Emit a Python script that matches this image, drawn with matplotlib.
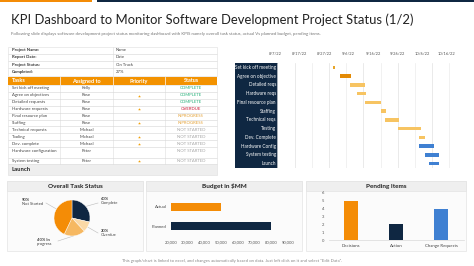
import matplotlib
matplotlib.use("Agg")
import matplotlib.pyplot as plt
from matplotlib.patches import Rectangle
import numpy as np

W, H = 474, 266
plt.rcParams['font.family'] = ['Lato', 'DejaVu Sans']

# ---------------- data ----------------
title = "KPI Dashboard to Monitor Software Development Project Status (1/2)"
subtitle = ("Following slide displays software development project status monitoring dashboard with KPIS "
            "namely overall task status, actual Vs planned budget, pending items.")
info_labels = ["Project Name:", "Report Date:", "Project Status:", "Completed:"]
info_values = ["Name", "Date", "On Track", "27%"]
table_headers = ["Tasks", "Assigned to", "Priority", "Status"]
tasks = ["Set kick off meeting", "Agree on objectives", "Detailed requests", "Hardware requests",
         "Final resource plan", "Staffing", "Technical requests", "Tooling", "Dev. complete",
         "Hardware configuration", "System testing"]
assigned = ["Kelly", "Rose", "Rose", "Rose", "Rose", "Rose", "Michael", "Michael", "Michael",
            "Peter", "Peter"]
priority = [False, True, False, True, False, True, False, True, True, False, True]
status = ["COMPLETE", "COMPLETE", "COMPLETE", "OVERDUE", "INPROGRESS", "INPROGRESS",
          "NOT STARTED", "NOT STARTED", "NOT STARTED", "NOT STARTED", "NOT STARTED"]
milestone = "Launch"

gantt_tasks = ["Set kick off meeting", "Agree on objective", "Detailed reqs", "Hardware reqs",
               "Final resource plan", "Staffing", "Technical reqs", "Testing", "Dev. Complete",
               "Hardware Config", "System testing", "Launch"]
gantt_start = [23.5, 26.5, 30.5, 33.5, 36.6, 43.0, 44.7, 50.0, 58.5, 58.8, 61.0, 62.5]  # days after 8/7/22
gantt_dur = [1.0, 4.5, 6.2, 3.7, 6.4, 2.3, 5.7, 9.6, 2.4, 6.1, 5.8, 4.3]
gantt_group = ["kick", "agree", "plan", "plan", "plan", "plan", "plan", "plan", "plan",
               "late", "late", "late"]
gantt_tick_days = [0, 10, 20, 30, 40, 50, 60, 70]
gantt_tick_labels = ["8/7/22", "8/17/22", "8/27/22", "9/6/22", "9/16/22", "9/26/22",
                     "10/6/22", "10/16/22"]

pie_labels = ["Complete", "Overdue", "In progress", "Not Started"]
pie_values = [60, 20, 40, 90]
pie_texts = ["60%\nComplete", "20%\nOverdue", "40% In\nprogress", "90%\nNot Started"]

budget_cats = ["Planned", "Actual"]
budget_vals = [80000, 50000]
budget_ticks = [20000, 30000, 40000, 50000, 60000, 70000, 80000, 90000]

pending_cats = ["Decisions", "Action", "Change Requests"]
pending_vals = [5, 2, 4]

footer = ('This graph/chart is linked to excel, and changes automatically based on data. '
          'Just left click on it and select "Edit Data".')

# ---------------- colours ----------------
NAVY = "#0F2742"
ORANGE = "#F48C06"
LORANGE = "#F7C462"
BLUE = "#3F80D2"
status_colors = {"COMPLETE": "#27B07A", "OVERDUE": "#C8102E",
                 "INPROGRESS": "#E3A034", "NOT STARTED": "#A6A6A6"}
gantt_colors = {"kick": "#E7A52A", "agree": "#E38A05", "plan": LORANGE, "late": BLUE}
pie_colors = [NAVY, "#FBD9A6", "#F6B861", ORANGE]
pending_colors = [ORANGE, NAVY, BLUE]

fig = plt.figure(figsize=(W / 100, H / 100), dpi=100)
fig.patch.set_facecolor("white")

def add_ax(x0, y0, x1, y1, **kw):
    return fig.add_axes([x0 / W, 1 - y1 / H, (x1 - x0) / W, (y1 - y0) / H], **kw)

# background pixel axes
bg = add_ax(0, 0, W, H)
bg.set_xlim(0, W)
bg.set_ylim(H, 0)
bg.axis("off")

def rect(x0, y0, x1, y1, fc, ec="none", lw=0.5, z=0):
    bg.add_patch(Rectangle((x0, y0), x1 - x0, y1 - y0, facecolor=fc, edgecolor=ec, lw=lw, zorder=z))

# top bars
rect(0, 0, 92, 2.2, ORANGE)
rect(97, 0, W, 2.2, NAVY)

bg.text(11, 19.5, title, fontsize=9.4, color="#222222", va="center", ha="left")
bg.text(11, 34, subtitle, fontsize=3.2, color="#777777", va="center", ha="left")

# ---------------- table ----------------
TL, TR = 8, 217
cols = [8, 60, 113, 165, 217]
line_c = "#DDDDDD"
fs_t = 3.1
# info rows
iy0, ih = 46.5, 7.3
for i, (lab, val) in enumerate(zip(info_labels, info_values)):
    y0 = iy0 + i * ih
    rect(TL, y0, TR, y0 + ih, "white", ec=line_c, lw=0.4)
    bg.plot([113, 113], [y0, y0 + ih], color=line_c, lw=0.4)
    bg.text(12, y0 + ih / 2, lab, fontsize=fs_t, fontweight="bold", color="#333333", va="center")
    bg.text(116, y0 + ih / 2, val, fontsize=fs_t, color="#444444", va="center")
# header
hy0, hy1 = 77, 85
rect(TL, hy0, TR, hy1, "#F39200")
for j, h in enumerate(table_headers):
    if j == 0:
        bg.text(12, (hy0 + hy1) / 2, h, fontsize=4.0, fontweight="bold", color="white", va="center")
    else:
        bg.text((cols[j] + cols[j + 1]) / 2, (hy0 + hy1) / 2, h, fontsize=4.0, fontweight="bold",
                color="white", va="center", ha="center")
for c in cols[1:-1]:
    bg.plot([c, c], [hy0, hy1], color="white", lw=0.5)
# task rows
heights = [6.9] * len(tasks)
heights[9] = 10.4
y = hy1
for i in range(len(tasks)):
    h = heights[i]
    rect(TL, y, TR, y + h, "white", ec=line_c, lw=0.4)
    for c in cols[1:-1]:
        bg.plot([c, c], [y, y + h], color=line_c, lw=0.4)
    yc = y + 3.45
    bg.text(12, yc, tasks[i], fontsize=fs_t, color="#444444", va="center")
    bg.text((cols[1] + cols[2]) / 2, yc, assigned[i], fontsize=fs_t, color="#444444",
            va="center", ha="center")
    if priority[i]:
        bg.plot((cols[2] + cols[3]) / 2, yc + 0.3, marker="*", ms=2.2, color="#F2A007", mec="none")
    bg.text((cols[3] + cols[4]) / 2, yc, status[i], fontsize=fs_t, color=status_colors[status[i]],
            va="center", ha="center")
    y += h
rect(TL, y, TR, y + 11, "#EEEEEE", ec=line_c, lw=0.4)
bg.text(12, y + 5.5, milestone, fontsize=4.3, fontweight="bold", color="#222222", va="center")

# ---------------- gantt ----------------
rect(235, 63, 278, 168, NAVY, z=3)
gx0, gx1, gy0, gy1 = 275, 462, 63, 168
px_per_day = 172 / 70
gax = add_ax(gx0, gy0, gx1, gy1)
gax.set_xlim(0, (gx1 - gx0) / px_per_day)
gax.set_ylim(len(gantt_tasks) - 0.5, -0.5)
ypos = np.arange(len(gantt_tasks))
gax.barh(ypos, gantt_dur, left=gantt_start, height=0.38,
         color=[gantt_colors[g] for g in gantt_group], zorder=3)
for d in np.arange(1, 76, 7):
    major = int(round((d - 1) / 7)) % 2 == 0
    gax.axvline(d, color="#E2E2E2" if not major else "#EBEBEB", lw=0.5, zorder=0)
for s in gax.spines.values():
    s.set_visible(False)
gax.set_yticks([])
gax.xaxis.tick_top()
gax.set_xticks(gantt_tick_days)
gax.set_xticklabels(gantt_tick_labels, fontsize=2.9, color="#555555")
gax.tick_params(axis="x", length=0, pad=5)
gax.patch.set_alpha(0)
for i, t in enumerate(gantt_tasks):
    bg.text(276, gy0 + (i + 0.5) * (gy1 - gy0) / len(gantt_tasks), t, fontsize=3.3,
            color="white", ha="right", va="center", zorder=4)

# ---------------- bottom panels ----------------
panels = [(7, 143, "Overall Task Status"), (146, 302, "Budget in $MM"), (306, 466, "Pending Items")]
py0, py1, ph = 181, 251, 10
for x0, x1, t in panels:
    rect(x0, py0, x1, py1, "#FBFBFB", ec="#E4E4E4", lw=0.5)
    rect(x0, py0, x1, py0 + ph, "#EFEFEF", ec="#E4E4E4", lw=0.5)
    bg.text((x0 + x1) / 2, py0 + ph / 2 + 0.3, t, fontsize=4.6, fontweight="bold",
            color="#222222", ha="center", va="center")

# pie
R = 18.0
cx, cy = 72, 218
pax = add_ax(7, 191, 143, 251)
pax.pie(pie_values, colors=pie_colors, startangle=90, counterclock=False, radius=1,
        wedgeprops=dict(edgecolor="white", linewidth=0.3))
pax.set_aspect("auto")
pax.set_xlim(-(cx - 7) / R, (143 - cx) / R)
pax.set_ylim(-(251 - cy) / R, (cy - 191) / R)
label_pos = [(101, 201), (101, 233), (37, 242), (22, 202)]
line_end = [(98, 203), (98, 233), (58, 241), (46, 203)]
edge_ang = [40, -30, -85, 150]
for txt, (lx, ly), (ex, ey), a in zip(pie_texts, label_pos, line_end, edge_ang):
    px = cx + R * np.cos(np.radians(a))
    py = cy - R * np.sin(np.radians(a))
    bg.plot([px, ex], [py, ey], color="#BBBBBB", lw=0.4, zorder=5)
    first, second = txt.split("\n")
    bg.text(lx, ly - 2.1, first, fontsize=3.0, fontweight="bold", color="#444444", va="center", zorder=5)
    bg.text(lx, ly + 2.1, second, fontsize=3.0, color="#444444", va="center", zorder=5)

# budget
px_per_10k = 16.7
bx0 = 171
bax = add_ax(bx0, 197, bx0 + 7 * px_per_10k, 236)
bax.barh([0, 1], budget_vals, left=0, height=0.4, color=[NAVY, ORANGE])
bax.set_xlim(20000, 90000)
bax.set_ylim(-0.526, 1.526)
bax.set_yticks([0, 1])
bax.set_yticklabels(budget_cats, fontsize=3.1, color="#444444")
bax.set_xticks(budget_ticks)
bax.set_xticklabels([f"{v:,}" for v in budget_ticks], fontsize=3.0, color="#555555")
bax.tick_params(length=0, pad=3)
for s in bax.spines.values():
    s.set_visible(False)
bax.patch.set_alpha(0)

# pending
pax2 = add_ax(328.5, 193, 463.5, 240)
pax2.bar(range(len(pending_cats)), pending_vals, width=0.33, color=pending_colors)
pax2.set_xlim(-0.5, 2.5)
pax2.set_ylim(0, 6)
pax2.set_yticks(range(7))
pax2.set_yticklabels([str(v) for v in range(7)], fontsize=3.0, color="#555555")
pax2.set_xticks(range(len(pending_cats)))
pax2.set_xticklabels(pending_cats, fontsize=3.2, color="#444444")
pax2.tick_params(length=0, pad=3)
for k, s in pax2.spines.items():
    s.set_visible(k == "bottom")
pax2.spines["bottom"].set_color("#D9D9D9")
pax2.spines["bottom"].set_linewidth(0.5)
pax2.patch.set_alpha(0)

bg.text(232, 261, footer, fontsize=3.1, color="#888888", ha="center", va="center")

fig.savefig("out.png", dpi=100, facecolor="white")
